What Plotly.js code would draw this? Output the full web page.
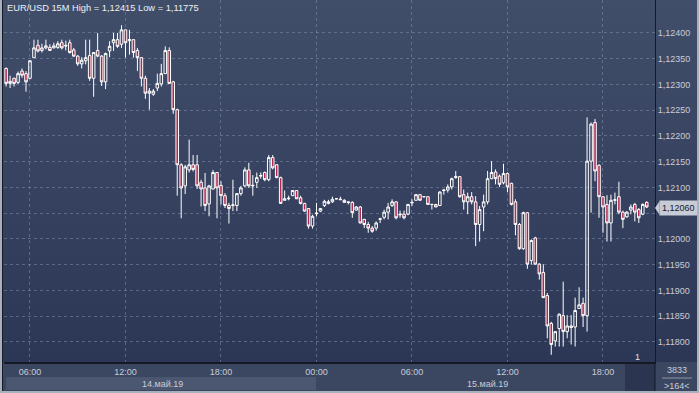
<!DOCTYPE html>
<html>
<head>
<meta charset="utf-8">
<script src="https://cdn.plot.ly/plotly-3.0.1.min.js"></script>
<style>
  html, body { margin:0; padding:0; background:#2f3a55; }
  #wrap { position:relative; width:699px; height:393px; overflow:hidden;
    background: linear-gradient(to bottom, #414e6a 0px, #2c3755 362px, #3b4661 362px, #3b4661 393px); }
  #chart { position:absolute; left:0; top:0; width:699px; height:393px; }
  .bd { position:absolute; pointer-events:none; }
</style>
</head>
<body>
<div id="wrap">
  <div id="chart"></div>
  <div class="bd" style="left:0;top:0;width:2px;height:393px;background:#a9b0bd;"></div>
  <div class="bd" style="left:2px;top:0;width:1px;height:391px;background:#161b28;"></div>
  <div class="bd" style="left:697px;top:0;width:2px;height:393px;background:#a9b0bd;"></div>
  <div class="bd" style="left:0;top:391px;width:699px;height:2px;background:#a9b0bd;"></div>
</div>
<script>
// ---- data: EUR/USD 15-minute bars, 14.05.2019 04:15 .. 15.05.2019 20:45 ----
const startTime = '2019-05-14 04:15';
const barMinutes = 15;

const open = [
1.12323,1.12331,1.12302,1.12312,1.12304,1.12326,1.12321,
1.12312,1.12352,1.12376,1.12366,1.12371,1.12372,1.12371,1.12372,1.12381,1.12376,
1.12381,1.12367,1.12355,1.12340,1.12346,1.12356,1.12312,1.12366,1.12355,1.12305,
1.12365,1.12381,1.12387,1.12378,1.12406,1.12385,1.12387,1.12366,1.12352,1.12312,
1.12283,1.12281,1.12293,1.12301,1.12321,1.12366,1.12305,1.12251,1.12144,1.12103,
1.12134,1.12144,1.12144,1.12110,1.12099,1.12068,1.12097,1.12129,1.12104,1.12084,
1.12065,1.12065,1.12065,1.12088,1.12103,1.12134,1.12103,1.12110,1.12122,1.12129,
1.12115,1.12158,1.12144,1.12119,1.12075,1.12078,1.12084,1.12094,1.12080,1.12069,
1.12059,1.12025,1.12049,1.12054,1.12065,1.12069,1.12072,1.12078,1.12076,1.12075,
1.12072,1.12071,1.12056,1.12062,1.12038,1.12028,1.12021,1.12021,1.12038,1.12042,
1.12052,1.12065,1.12072,1.12048,1.12048,1.12048,1.12070,1.12075,1.12086,1.12082,
1.12082,1.12067,1.12067,1.12065,1.12094,1.12095,1.12101,1.12119,1.12121,1.12086,
1.12072,1.12082,1.12072,1.12028,1.12062,1.12072,1.12117,1.12130,1.12122,1.12109,
1.12127,1.12108,1.12072,1.12028,1.11981,1.12051,1.11958,1.12002,1.11951,1.11935,
1.11890,1.11836,1.11802,1.11826,1.11851,1.11820,1.11831,1.11829,1.11865,1.11875,
1.11851,1.12151,1.12226,1.12143,1.12082,1.12067,1.12031,1.12075,1.12082,1.12052,
1.12043,1.12056,1.12067,1.12057,1.12048,1.12071
];
const high = [
1.12333,1.12333,1.12317,1.12313,1.12325,1.12331,1.12326,
1.12347,1.12387,1.12387,1.12379,1.12387,1.12378,1.12381,1.12384,1.12387,1.12385,
1.12387,1.12371,1.12357,1.12353,1.12387,1.12387,1.12363,1.12400,1.12357,1.12362,
1.12384,1.12400,1.12400,1.12415,1.12406,1.12406,1.12387,1.12371,1.12353,1.12317,
1.12293,1.12291,1.12321,1.12340,1.12374,1.12372,1.12307,1.12253,1.12147,1.12144,
1.12193,1.12163,1.12163,1.12115,1.12128,1.12105,1.12134,1.12129,1.12112,1.12089,
1.12070,1.12115,1.12089,1.12103,1.12139,1.12148,1.12124,1.12129,1.12129,1.12131,
1.12163,1.12163,1.12145,1.12121,1.12094,1.12084,1.12094,1.12094,1.12084,1.12070,
1.12060,1.12047,1.12070,1.12060,1.12076,1.12076,1.12082,1.12079,1.12082,1.12077,
1.12073,1.12073,1.12064,1.12064,1.12039,1.12033,1.12025,1.12034,1.12041,1.12057,
1.12070,1.12077,1.12073,1.12055,1.12055,1.12068,1.12077,1.12086,1.12086,1.12083,
1.12082,1.12068,1.12068,1.12093,1.12096,1.12106,1.12119,1.12132,1.12122,1.12096,
1.12090,1.12091,1.12083,1.12064,1.12086,1.12132,1.12151,1.12135,1.12125,1.12146,
1.12129,1.12109,1.12077,1.12031,1.12053,1.12052,1.11999,1.12004,1.11953,1.11951,
1.11895,1.11839,1.11820,1.11855,1.11917,1.11852,1.11852,1.11886,1.11906,1.11886,
1.12236,1.12226,1.12233,1.12145,1.12083,1.12085,1.12086,1.12090,1.12111,1.12055,
1.12054,1.12067,1.12070,1.12060,1.12069,1.12073
];
const low = [
1.12321,1.12296,1.12293,1.12296,1.12301,1.12313,1.12286,
1.12310,1.12352,1.12362,1.12362,1.12368,1.12365,1.12370,1.12369,1.12368,1.12366,
1.12360,1.12354,1.12336,1.12331,1.12339,1.12307,1.12276,1.12353,1.12297,1.12291,
1.12353,1.12365,1.12371,1.12371,1.12352,1.12358,1.12352,1.12326,1.12296,1.12272,
1.12251,1.12278,1.12287,1.12296,1.12321,1.12301,1.12243,1.12084,1.12040,1.12087,
1.12129,1.12131,1.12097,1.12063,1.12054,1.12044,1.12096,1.12040,1.12067,1.12060,
1.12030,1.12054,1.12054,1.12084,1.12101,1.12099,1.12084,1.12099,1.12117,1.12112,
1.12112,1.12135,1.12118,1.12068,1.12075,1.12075,1.12084,1.12078,1.12067,1.12053,
1.12020,1.12020,1.12044,1.12052,1.12062,1.12067,1.12070,1.12077,1.12076,1.12070,
1.12067,1.12041,1.12055,1.12030,1.12021,1.12012,1.12012,1.12016,1.12031,1.12038,
1.12038,1.12062,1.12038,1.12041,1.12038,1.12046,1.12064,1.12075,1.12075,1.12081,
1.12067,1.12057,1.12062,1.12065,1.12086,1.12090,1.12096,1.12117,1.12080,1.12057,
1.12048,1.12067,1.11986,1.11995,1.12015,1.12067,1.12116,1.12106,1.12101,1.12106,
1.12091,1.12065,1.12007,1.11979,1.11979,1.11942,1.11950,1.11950,1.11921,1.11885,
1.11807,1.11775,1.11791,1.11791,1.11791,1.11807,1.11795,1.11791,1.11864,1.11829,
1.11820,1.12051,1.12112,1.12041,1.12012,1.11995,1.11995,1.12067,1.12048,1.12021,
1.12041,1.12048,1.12034,1.12031,1.12046,1.12060
];
const close = [
1.12329,1.12302,1.12306,1.12302,1.12321,1.12318,1.12305,
1.12346,1.12371,1.12365,1.12371,1.12375,1.12366,1.12375,1.12379,1.12371,1.12375,
1.12362,1.12355,1.12340,1.12347,1.12352,1.12312,1.12362,1.12355,1.12305,1.12360,
1.12374,1.12387,1.12374,1.12406,1.12381,1.12387,1.12362,1.12352,1.12312,1.12283,
1.12287,1.12287,1.12302,1.12321,1.12366,1.12302,1.12251,1.12144,1.12099,1.12140,
1.12144,1.12135,1.12103,1.12097,1.12065,1.12103,1.12129,1.12099,1.12084,1.12065,
1.12059,1.12066,1.12088,1.12099,1.12134,1.12103,1.12104,1.12119,1.12123,1.12115,
1.12158,1.12138,1.12119,1.12069,1.12078,1.12079,1.12094,1.12078,1.12069,1.12054,
1.12025,1.12044,1.12050,1.12059,1.12073,1.12072,1.12077,1.12078,1.12077,1.12071,
1.12071,1.12051,1.12062,1.12031,1.12028,1.12021,1.12015,1.12031,1.12039,1.12052,
1.12062,1.12072,1.12041,1.12047,1.12041,1.12067,1.12071,1.12086,1.12075,1.12082,
1.12067,1.12067,1.12062,1.12091,1.12095,1.12101,1.12117,1.12121,1.12082,1.12072,
1.12082,1.12072,1.12028,1.12057,1.12072,1.12117,1.12129,1.12117,1.12106,1.12127,
1.12101,1.12067,1.12028,1.11981,1.12051,1.11951,1.11997,1.11951,1.11932,1.11886,
1.11831,1.11795,1.11820,1.11854,1.11820,1.11831,1.11828,1.11861,1.11872,1.11851,
1.12151,1.12223,1.12132,1.12082,1.12062,1.12031,1.12075,1.12076,1.12052,1.12038,
1.12052,1.12062,1.12052,1.12041,1.12067,1.12062
];

// price scale ticks (the 1,12050 label is covered by the last-price marker)
const yTickVals = [1.11800, 1.11850, 1.11900, 1.11950, 1.12000, 1.12050, 1.12100, 1.12150, 1.12200, 1.12250, 1.12300, 1.12350, 1.12400];
const yTickText = ['1,11800', '1,11850', '1,11900', '1,11950', '1,12000', '', '1,12100', '1,12150', '1,12200', '1,12250', '1,12300', '1,12350', '1,12400'];

const titleText = 'EUR/USD 15M High = 1,12415 Low = 1,11775';
const dayLabels = ['14.май.19', '15.май.19'];
const lastPriceText = '1,12060';
const lastPrice = 1.12060;
const barsInfo = ['3833', '>164<'];

// timestamps for the bars
const t0 = Date.parse(startTime.replace(' ', 'T') + ':00Z');
const x = open.map((_, i) => new Date(t0 + i * barMinutes * 60000).toISOString().slice(0, 16).replace('T', ' '));

const W = 699, H = 393, ML = 4, MR = 44, MT = 0, MB = 31;
const PW = W - ML - MR, PH = H - MT - MB;
const px = v => (v - ML) / PW;          // pixel -> paper x
const py = v => (H - MB - v) / PH;      // pixel -> paper y

const font = '"Liberation Sans", Arial, sans-serif';
const labelColor = '#c9cdd6';

const trace = {
  type: 'candlestick',
  x: x, open: open, high: high, low: low, close: close,
  increasing: { line: { color: '#ffffff', width: 1 }, fillcolor: 'rgba(0,0,0,0)' },
  decreasing: { line: { color: '#ffffff', width: 1 }, fillcolor: '#b02a4f' },
  whiskerwidth: 0,
  hoverinfo: 'skip'
};

const layout = {
  width: W, height: H,
  margin: { l: ML, r: MR, t: MT, b: MB, pad: 0 },
  paper_bgcolor: 'rgba(0,0,0,0)',
  plot_bgcolor: 'rgba(0,0,0,0)',
  separators: ',.',
  showlegend: false,
  boxgap: 0.2,
  boxgroupgap: 0.2,
  xaxis: {
    type: 'date',
    range: ['2019-05-14 04:22:03', '2019-05-15 21:16:03'],
    rangeslider: { visible: false },
    tick0: '2019-05-14 00:00', dtick: 6 * 3600 * 1000,
    tickformat: '%H:%M',
    tickfont: { family: font, size: 9, color: labelColor },
    ticks: '', ticklen: 0,
    showgrid: true, gridcolor: 'rgba(125,140,172,0.55)', gridwidth: 1, griddash: '3px,3px',
    zeroline: false,
    showline: true, linecolor: '#141925', linewidth: 2,
    fixedrange: true
  },
  yaxis: {
    side: 'right',
    range: [1.11761, 1.12464],
    tickmode: 'array', tickvals: yTickVals, ticktext: yTickText,
    tickfont: { family: font, size: 9, color: labelColor },
    ticks: '', ticklen: 0,
    showgrid: true, gridcolor: 'rgba(125,140,172,0.55)', gridwidth: 1, griddash: '3px,3px',
    zeroline: false,
    showline: true, linecolor: '#141925', linewidth: 1,
    fixedrange: true
  },
  shapes: [
    // day band (first day) in the time strip
    { type: 'rect', xref: 'paper', yref: 'paper', x0: px(6), x1: px(316), y0: py(390), y1: py(377),
      fillcolor: '#4b5670', line: { width: 0 }, layer: 'below' },
    // dark box at the right end of the time strip
    { type: 'rect', xref: 'paper', yref: 'paper', x0: px(625), x1: 1, y0: py(391), y1: py(363),
      fillcolor: '#2b3550', line: { width: 0 }, layer: 'below' },
    // vertical separator through the bottom strip
    { type: 'line', xref: 'paper', yref: 'paper', x0: 1, x1: 1, y0: 0, y1: py(391),
      line: { color: '#141925', width: 1 } },
    // separator between the bar counters
    { type: 'line', xref: 'paper', yref: 'paper', x0: px(662), x1: px(692), y0: py(378), y1: py(378),
      line: { color: '#8d96a8', width: 1 } },
    // pointer of the last price label
    { type: 'path', xref: 'paper', yref: 'y',
      path: 'M ' + 1 + ',' + lastPrice + ' L ' + px(659.5) + ',1.12073 L ' + px(659.5) + ',1.12047 Z',
      fillcolor: '#c6cbd5', line: { width: 0 } }
  ],
  annotations: [
    { xref: 'paper', yref: 'paper', x: 0, y: 1, xanchor: 'left', yanchor: 'top', xshift: 1, yshift: -1,
      text: titleText, showarrow: false, font: { family: font, size: 9.3, color: '#eef0f4' } },
    { xref: 'paper', yref: 'paper', x: px(162), y: py(383.5), xanchor: 'center', yanchor: 'middle',
      text: dayLabels[0], showarrow: false, font: { family: font, size: 9, color: labelColor } },
    { xref: 'paper', yref: 'paper', x: px(487), y: py(383.5), xanchor: 'center', yanchor: 'middle',
      text: dayLabels[1], showarrow: false, font: { family: font, size: 9, color: labelColor } },
    { xref: 'paper', yref: 'paper', x: px(677), y: py(370), xanchor: 'center', yanchor: 'middle',
      text: barsInfo[0], showarrow: false, font: { family: font, size: 9, color: labelColor } },
    { xref: 'paper', yref: 'paper', x: px(677), y: py(385.5), xanchor: 'center', yanchor: 'middle',
      text: barsInfo[1], showarrow: false, font: { family: font, size: 9, color: labelColor } },
    { xref: 'paper', yref: 'paper', x: px(637), y: py(357), xanchor: 'center', yanchor: 'middle',
      text: '1', showarrow: false, font: { family: font, size: 9, color: '#dfe3ea' } },
    { xref: 'paper', yref: 'y', x: px(659), y: lastPrice, xanchor: 'left', yanchor: 'middle',
      text: lastPriceText, showarrow: false, bgcolor: '#c6cbd5', borderpad: 2,
      font: { family: font, size: 9, color: '#141a28' } }
  ]
};

Plotly.newPlot('chart', [trace], layout, { staticPlot: true, displayModeBar: false });
</script>
</body>
</html>
